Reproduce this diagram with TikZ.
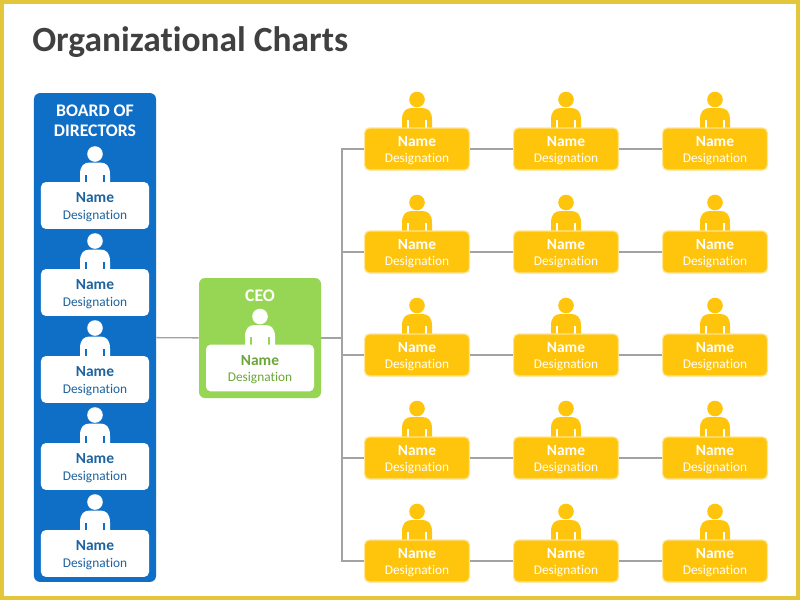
\documentclass[tikz,border=0pt]{standalone}
\usepackage{fontspec}
\setmainfont[Ligatures=NoCommon]{Carlito}
\usepackage{tikz}
\usetikzlibrary{positioning,arrows.meta,calc}
\definecolor{framey}{HTML}{E4C63C}
\definecolor{boardb}{HTML}{0F6FC6}
\definecolor{ceog}{HTML}{96D654}
\definecolor{ceotxt}{HTML}{6CA63A}
\definecolor{nameb}{HTML}{1C639F}
\definecolor{stafy}{HTML}{FFC40C}
\definecolor{linkg}{HTML}{A3A3A3}
\tikzset{
  panel/.style={rounded corners=1.5mm, inner sep=0pt},
  card/.style={rectangle, rounded corners=1.2mm, minimum width=27mm, minimum height=11.7mm,
               inner sep=0pt, align=center, fill=white, font=\fontsize{9.5}{12}\selectfont},
  bcard/.style={card, text=nameb},
  ccard/.style={card, minimum height=11.7mm, text=ceotxt},
  ycard/.style={card, fill=stafy, draw=stafy!45!white, line width=0.3mm, minimum width=26.2mm,
                minimum height=10.5mm, text=white},
  heading/.style={font=\fontsize{12.6}{14.2}\selectfont\bfseries, align=center, text=white},
  link/.style={draw=linkg, line width=0.35mm},
  pics/person/.style 2 args={code={
    \fill[#1] (0,51.5) circle (7.8);
    \fill[#1] (-15,20) -- (-15,31) .. controls (-15,40) and (-11,43) .. (-5,43) -- (5,43)
       .. controls (11,43) and (15,40) .. (15,31) -- (15,20) -- cycle;
    \fill[#2] (-10,20) rectangle (-8,31);
    \fill[#2] (8,20) rectangle (10,31);
  }},
}
\newcommand{\namedes}{\rule{0pt}{9.5pt}\textbf{\fontsize{11}{12}\selectfont Name}\\Designation}
\begin{document}
\begin{tikzpicture}[x=0.25mm,y=0.25mm]
  \useasboundingbox (0,0) rectangle (800,-600);
  % page frame
  \node[draw=framey, fill=white, line width=0.9mm, minimum width=199.1mm, minimum height=149.1mm,
        inner sep=0pt] (page) at (400,-300) {};
  \node[anchor=west, inner sep=0pt, text=black!75, font=\fontsize{25.2}{30}\selectfont\bfseries]
       (title) at (32,-42.5) {Organizational Charts};
  % board column
  \node[panel, fill=boardb, minimum width=30.5mm, minimum height=122.2mm] (board) at (95,-337.5) {};
  \node[heading] (boardhead) at (95,-121) {BOARD OF\\DIRECTORS};
  \foreach \i in {0,...,4}{
    \pgfmathsetmacro{\yy}{-205.5-87*\i}
    \pic at (95,\yy) {person={white}{boardb}};
    \node[bcard] (b\i) at (95,\yy) {\namedes};
  }
  % ceo box
  \node[panel, fill=ceog, minimum width=30.5mm, minimum height=30mm] (ceo) at (260,-338) {};
  \node[heading] (ceohead) at (260,-296) {CEO};
  \pic at (260,-368) {person={white}{ceog}};
  \node[ccard] (c) at (260,-368) {\namedes};
  % staff rows
  \foreach \r in {0,...,4}{
    \pgfmathsetmacro{\yy}{-149-103*\r}
    \foreach \x/\n in {417/a,566/b,715/c}{
      \pic at (\x,\yy-2) {person={stafy}{white}};
      \node[ycard] (\n\r) at (\x,\yy) {\namedes};
    }
    \draw[link] (a\r) -- (b\r);
    \draw[link] (b\r) -- (c\r);
  }
  % links from board to ceo to rows
  \coordinate (trunk) at (342,-338);
  \draw[link] (board) -- (ceo);
  \draw[link] (ceo) -- (trunk);
  \foreach \r in {0,...,4}{
    \draw[link] (trunk) |- (a\r);
  }
\end{tikzpicture}
\end{document}
